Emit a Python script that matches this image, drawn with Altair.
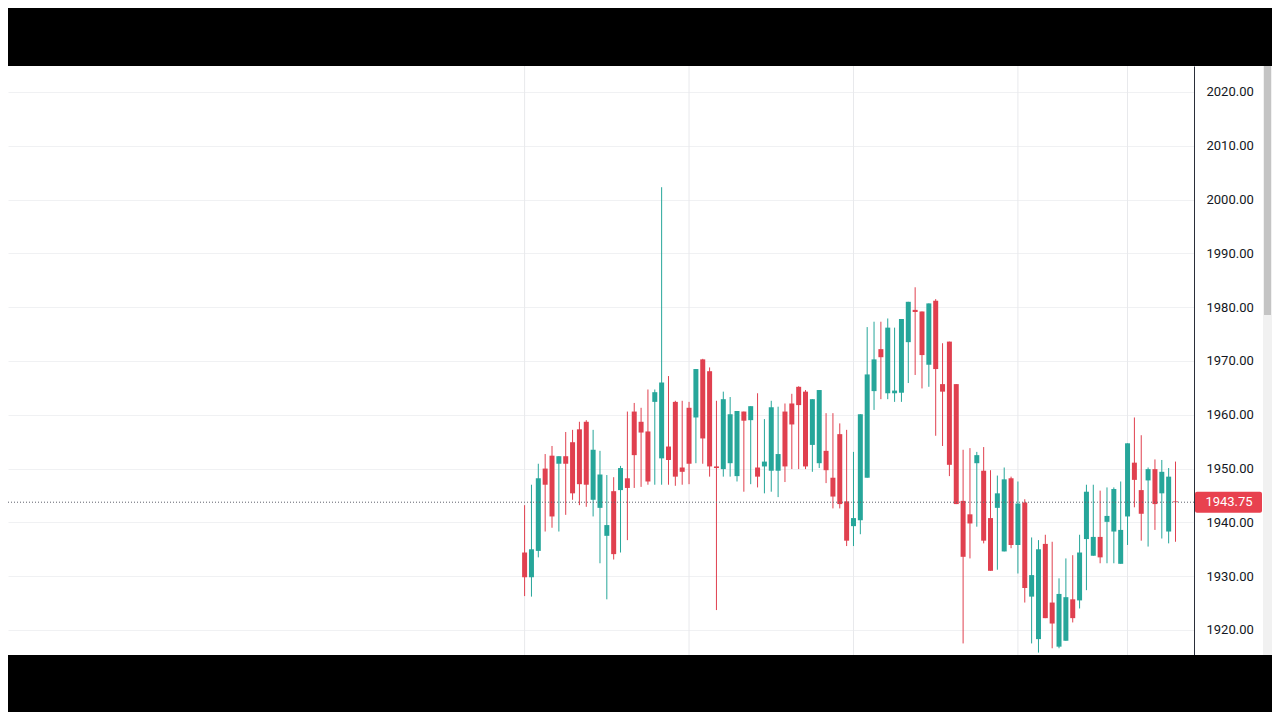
import altair as alt
import pandas as pd

# Candle index (hourly bars), open / high / low / close
opens = [1934.4, 1929.8, 1934.7, 1950.0, 1952.4, 1950.9, 1952.3, 1954.9, 1957.3, 1958.7,
         1944.2, 1942.7, 1937.5, 1945.8, 1946.0, 1948.2, 1960.6, 1958.7, 1956.9, 1962.4,
         1951.9, 1954.1, 1962.4, 1950.2, 1961.3, 1959.5, 1970.3, 1968.1, 1950.4, 1949.9,
         1951.0, 1948.6, 1960.6, 1959.0, 1950.2, 1950.4, 1949.6, 1949.6, 1960.6, 1962.1,
         1965.2, 1964.3, 1954.4, 1951.0, 1953.3, 1948.3, 1956.4, 1943.9, 1939.3, 1940.4,
         1948.3, 1964.4, 1972.2, 1964.0, 1964.0, 1964.1, 1973.5, 1979.5, 1979.2, 1969.3,
         1981.2, 1965.7, 1973.6, 1965.7, 1944.0, 1941.5, 1951.0, 1949.6, 1940.8, 1942.7,
         1934.6, 1948.2, 1935.8, 1943.7, 1926.2, 1918.3, 1936.0, 1925.1, 1916.9, 1918.0,
         1925.7, 1925.5, 1936.9, 1933.8, 1937.3, 1940.1, 1938.3, 1932.3, 1941.1, 1951.1,
         1946.0, 1947.8, 1949.9, 1945.4, 1938.3, 1943.9]
highs = [1943.2, 1947.0, 1950.9, 1952.7, 1954.2, 1952.3, 1956.8, 1957.2, 1958.7, 1959.0,
         1957.2, 1953.3, 1948.8, 1948.4, 1950.5, 1960.6, 1962.2, 1961.3, 1964.7, 1964.7,
         2002.3, 1967.2, 1962.6, 1962.6, 1962.4, 1968.5, 1970.4, 1968.8, 1962.6, 1964.3,
         1963.3, 1960.7, 1960.6, 1961.6, 1964.0, 1959.2, 1962.6, 1961.5, 1962.1, 1963.9,
         1965.3, 1964.6, 1962.9, 1964.6, 1960.3, 1960.3, 1958.4, 1957.2, 1953.1, 1960.1,
         1976.3, 1977.3, 1977.3, 1977.9, 1976.2, 1977.8, 1981.0, 1983.7, 1979.2, 1980.7,
         1981.5, 1973.3, 1973.6, 1965.7, 1953.5, 1953.8, 1953.1, 1954.0, 1949.7, 1948.7,
         1950.2, 1948.5, 1947.6, 1944.3, 1937.2, 1936.7, 1937.7, 1936.4, 1929.6, 1933.3,
         1933.9, 1937.7, 1947.0, 1947.0, 1945.9, 1946.5, 1946.5, 1947.6, 1954.7, 1959.5,
         1956.2, 1950.2, 1951.7, 1951.6, 1950.1, 1951.3]
lows = [1926.3, 1926.2, 1933.5, 1938.3, 1939.0, 1938.3, 1941.4, 1944.2, 1943.2, 1942.9,
        1941.1, 1932.4, 1925.7, 1933.1, 1934.4, 1936.7, 1946.4, 1946.6, 1947.0, 1947.0,
        1947.0, 1947.0, 1946.8, 1947.0, 1947.1, 1951.0, 1950.9, 1948.5, 1923.7, 1948.5,
        1948.5, 1947.6, 1945.7, 1947.1, 1946.5, 1945.4, 1945.7, 1944.7, 1947.5, 1949.9,
        1949.9, 1949.9, 1949.4, 1950.1, 1947.3, 1942.6, 1942.6, 1935.6, 1935.6, 1937.8,
        1948.3, 1960.9, 1962.9, 1962.9, 1962.4, 1962.4, 1965.9, 1967.4, 1964.9, 1965.2,
        1956.1, 1954.2, 1948.6, 1943.4, 1917.5, 1933.3, 1939.2, 1936.1, 1931.0, 1931.2,
        1934.6, 1935.2, 1930.5, 1925.1, 1917.5, 1915.8, 1922.2, 1916.6, 1916.6, 1918.0,
        1921.4, 1924.0, 1927.4, 1933.8, 1932.4, 1932.4, 1932.4, 1932.3, 1935.8, 1942.8,
        1936.6, 1935.5, 1938.6, 1937.0, 1936.1, 1936.4]
closes = [1929.8, 1935.0, 1948.2, 1947.0, 1941.1, 1952.3, 1950.9, 1945.4, 1947.1, 1947.0,
          1953.5, 1948.9, 1939.5, 1934.1, 1950.1, 1946.4, 1952.5, 1956.7, 1947.6, 1964.2,
          1966.0, 1951.6, 1948.5, 1949.4, 1950.9, 1968.5, 1955.6, 1950.4, 1950.1, 1962.9,
          1960.1, 1960.7, 1958.9, 1961.6, 1948.5, 1951.3, 1961.4, 1952.7, 1950.4, 1958.2,
          1961.8, 1950.4, 1962.9, 1964.6, 1949.7, 1944.8, 1943.4, 1936.6, 1940.8, 1960.1,
          1967.5, 1970.3, 1970.7, 1976.2, 1964.5, 1977.8, 1981.0, 1979.1, 1971.1, 1980.7,
          1968.5, 1964.3, 1950.7, 1943.4, 1933.6, 1939.8, 1952.5, 1936.6, 1931.0, 1945.4,
          1948.0, 1935.8, 1943.5, 1927.8, 1930.2, 1935.0, 1922.2, 1921.2, 1926.7, 1926.1,
          1922.2, 1934.4, 1945.7, 1937.3, 1933.5, 1941.2, 1946.2, 1938.6, 1954.7, 1947.9,
          1941.6, 1949.9, 1943.4, 1949.4, 1948.5, 1943.75]

session_starts = [0, 24, 48, 72, 88]
last_price = 1943.75
price_ticks = [1920, 1930, 1940, 1950, 1960, 1970, 1980, 1990, 2000, 2010, 2020]

UP = "#26a69a"
DOWN = "#e0404f"
W, H = 1186, 589
TOTAL_W, TOP, BOTTOM = 1264, 58, 57

df = pd.DataFrame({"i": list(range(len(opens))), "O": opens, "H": highs,
                   "L": lows, "C": closes})
df["dir"] = ["up" if c >= o else "down" for o, c in zip(opens, closes)]

xs = alt.Scale(domain=[-74.67, 96.97], nice=False, zero=False)
ys = alt.Scale(domain=[1915.35, 2024.83], nice=False, zero=False)
yaxis = alt.Axis(orient="right", values=price_ticks, format=".2f", title=None,
                 grid=True, gridColor="#f0f1f3", domain=True, domainColor="#2a2e39",
                 ticks=False, labelPadding=12, labelFont="Roboto", labelFontSize=13,
                 labelColor="#131722")
color = alt.Color("dir:N", scale=alt.Scale(domain=["up", "down"], range=[UP, DOWN]),
                  legend=None)

base = alt.Chart(df)

wicks = base.mark_rule(strokeWidth=1).encode(
    x=alt.X("i:Q", scale=xs, axis=None),
    y=alt.Y("L:Q", scale=ys, axis=yaxis),
    y2="H:Q",
    color=color,
)
bodies = base.mark_bar(size=5).encode(
    x=alt.X("i:Q", scale=xs, axis=None),
    y=alt.Y("O:Q", scale=ys, axis=yaxis),
    y2="C:Q",
    color=color,
)

vgrid = alt.Chart(pd.DataFrame({"g": session_starts})).mark_rule(
    color="#e8e9ec", strokeWidth=1).encode(
    x=alt.X("g:Q", scale=xs, axis=None), y=alt.value(0), y2=alt.value(H))

lp = pd.DataFrame({"p": [last_price], "t": [f"{last_price:.2f}"]})
dotted = alt.Chart(lp).mark_rule(color="#5d606b", strokeDash=[1, 2], strokeWidth=1).encode(
    y=alt.Y("p:Q", scale=ys, axis=yaxis), x=alt.value(0), x2=alt.value(W))
box = alt.Chart(lp).mark_tick(orient="horizontal", size=67, thickness=21,
                              color="#e8414f", opacity=1, cornerRadius=2).encode(
    y=alt.Y("p:Q", scale=ys, axis=yaxis), x=alt.value(W + 34.5))
label = alt.Chart(lp).mark_text(color="white", font="Roboto", fontSize=13,
                                align="center", baseline="middle").encode(
    y=alt.Y("p:Q", scale=ys, axis=yaxis), x=alt.value(W + 35), text="t:N")

one = pd.DataFrame({"a": [0]})
top_band = alt.Chart(one).mark_rect(color="black").encode(
    x=alt.value(0), x2=alt.value(TOTAL_W), y=alt.value(-TOP), y2=alt.value(0))
bottom_band = alt.Chart(one).mark_rect(color="black").encode(
    x=alt.value(0), x2=alt.value(TOTAL_W), y=alt.value(H), y2=alt.value(H + BOTTOM))
track = alt.Chart(one).mark_rect(color="#f1f1f1").encode(
    x=alt.value(TOTAL_W - 9), x2=alt.value(TOTAL_W), y=alt.value(0), y2=alt.value(H))
thumb = alt.Chart(one).mark_rect(color="#c4c4c4").encode(
    x=alt.value(TOTAL_W - 8), x2=alt.value(TOTAL_W - 1), y=alt.value(0), y2=alt.value(249))

chart = alt.layer(
    vgrid, wicks, bodies, dotted, box, label, top_band, bottom_band, track, thumb
).properties(
    width=W, height=H,
    autosize=alt.AutoSizeParams(type="none"),
    padding={"left": 0, "top": TOP, "right": TOTAL_W - W, "bottom": BOTTOM},
    background="white",
).configure_view(stroke=None)

chart.save("out.html", embed_options={"renderer": "svg", "actions": False})
